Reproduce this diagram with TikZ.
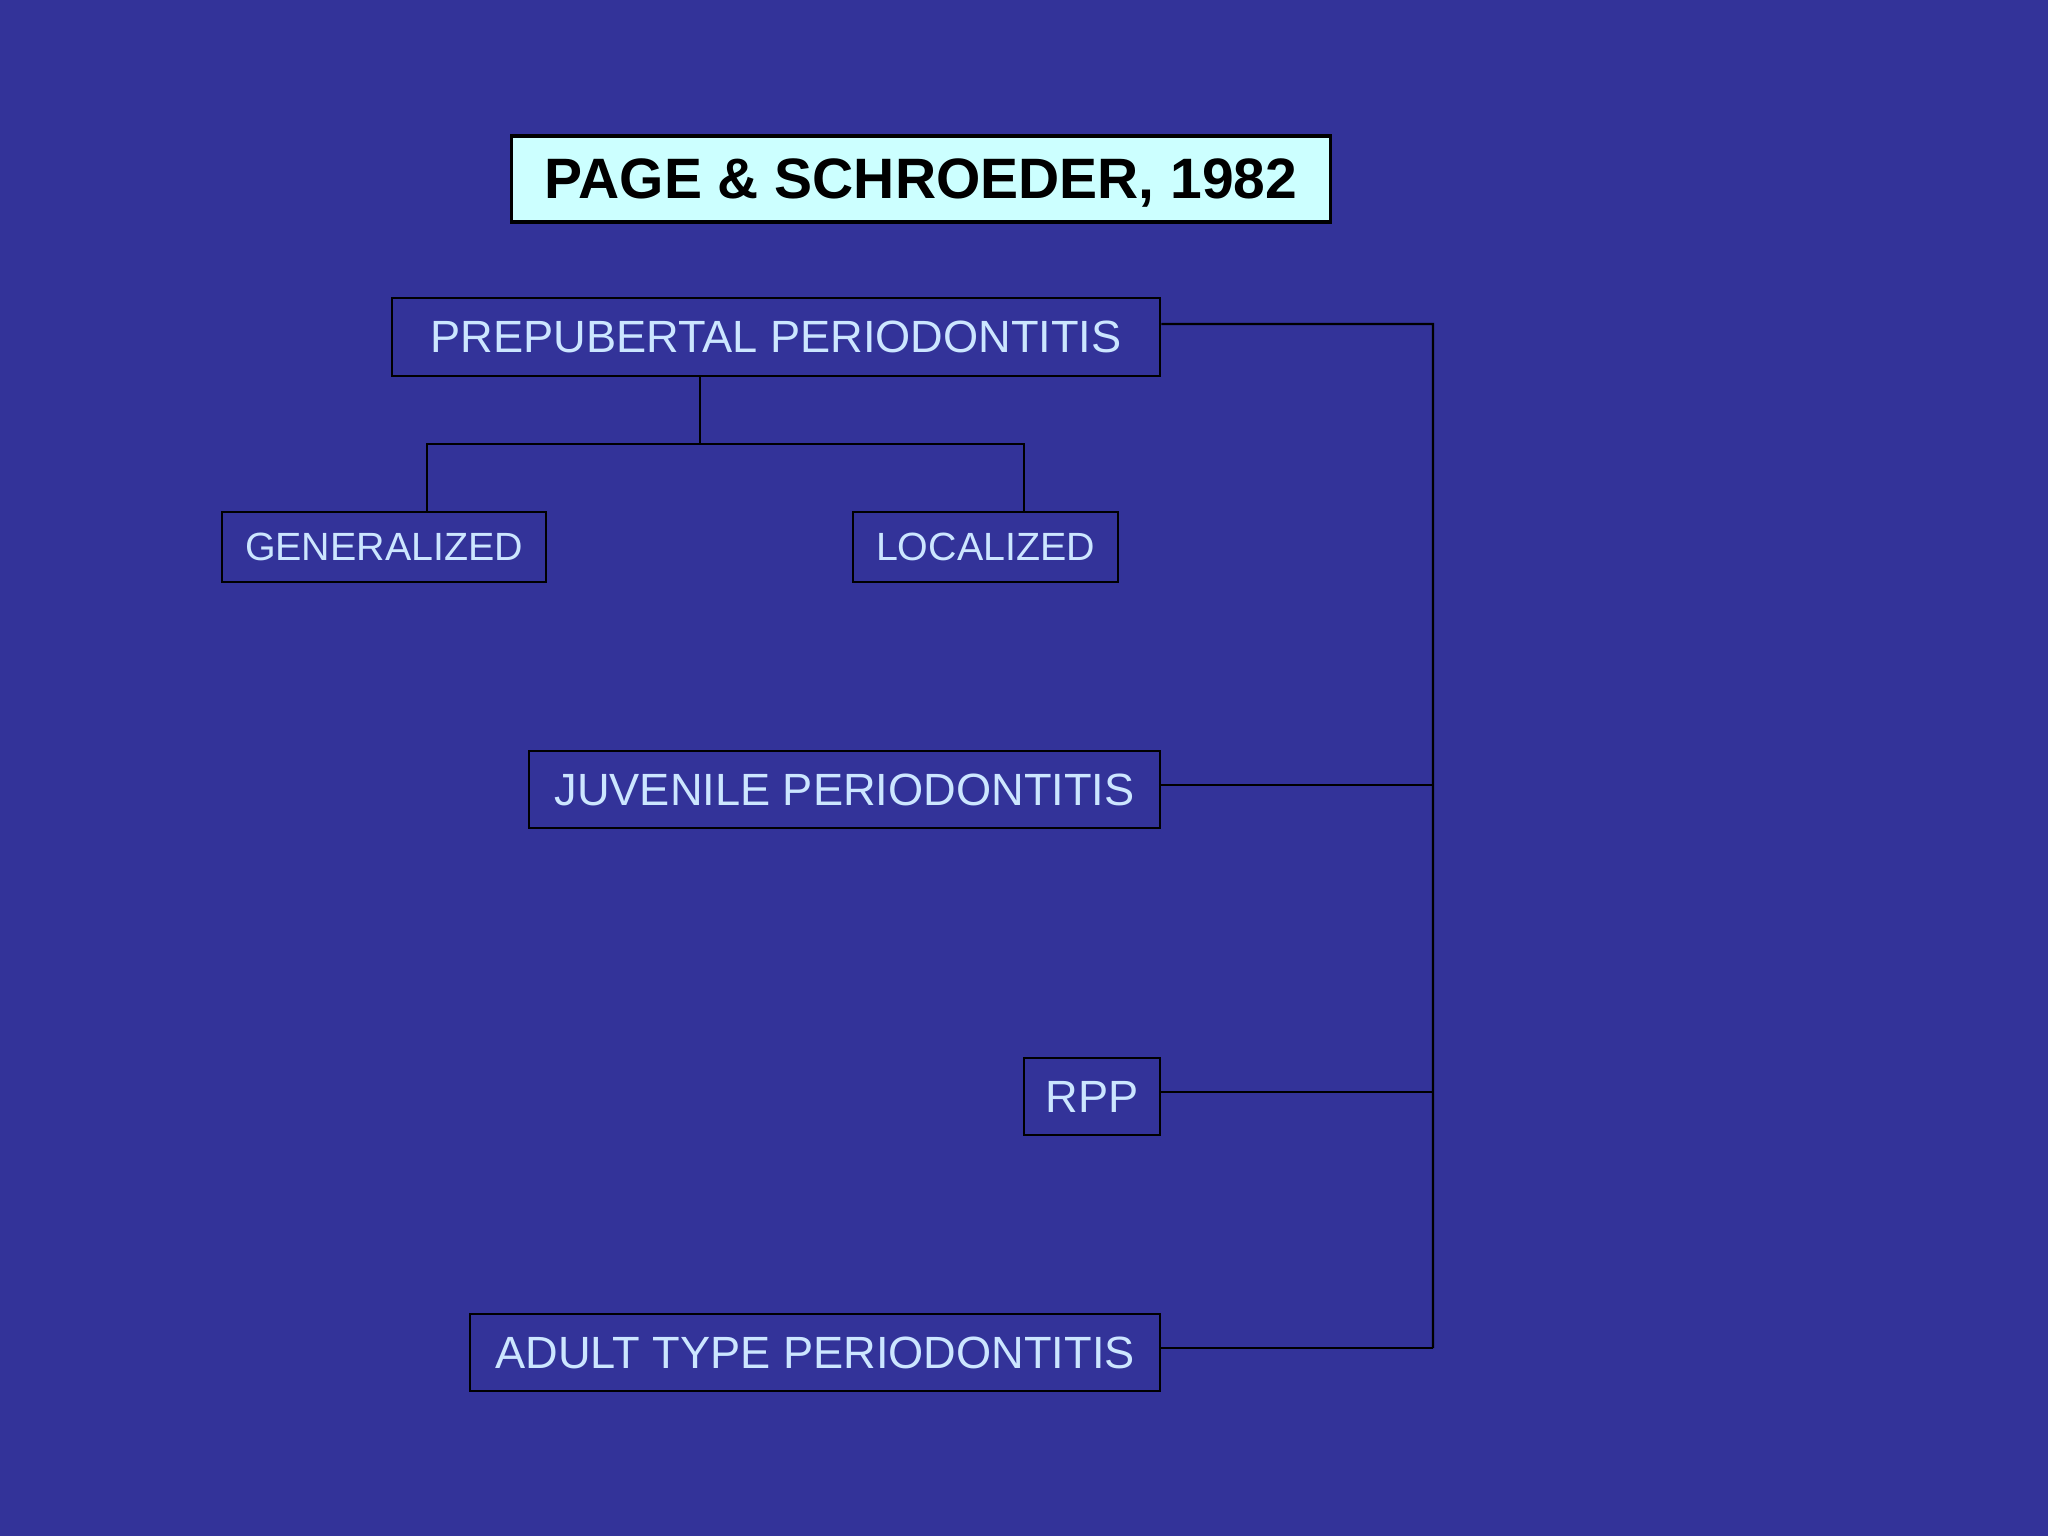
\documentclass[tikz,border=0pt]{standalone}
\usepackage{fontspec}
\setmainfont{Liberation Sans}
\usepackage{tikz}
\usetikzlibrary{positioning,calc}
\definecolor{slideBlue}{RGB}{51,51,153}
\definecolor{labelBlue}{RGB}{204,230,255}
\definecolor{titleCyan}{RGB}{204,255,255}
\tikzset{
	classBox/.style={draw=black, line width=0.6pt, text=labelBlue, inner sep=0pt,
		minimum height=0.77cm, font=\fontsize{12.85}{15}\selectfont},
	smallBox/.style={classBox, minimum height=0.70cm, font=\fontsize{11.2}{13}\selectfont},
	headBox/.style={draw=black, line width=0.9pt, fill=titleCyan, text=black, inner sep=0pt,
		text depth=0pt, minimum height=0.86cm, font=\fontsize{16.2}{19}\selectfont\bfseries},
	link/.style={draw=black, line width=0.6pt}
}

\begin{document}
\begin{tikzpicture}[x=0.01cm, y=-0.01cm]
		\fill[slideBlue] (0,0) rectangle (2048,1536);
		\node[headBox, minimum width=8.18cm] (title) at (921,179) {PAGE \& SCHROEDER, 1982};
		\node[classBox, minimum width=7.68cm, minimum height=0.78cm] (prep) at (776,337) {PREPUBERTAL PERIODONTITIS};
		\node[smallBox, minimum width=3.24cm] (gen) at (384,547) {GENERALIZED};
		\node[smallBox, minimum width=2.65cm] (loc) at (985.5,547) {LOCALIZED};
		\node[classBox, minimum width=6.31cm] (juv) at (844.5,789.5) {JUVENILE PERIODONTITIS};
		\node[classBox, minimum width=1.36cm] (rpp) at (1092,1096.5) {RPP};
		\node[classBox, minimum width=6.90cm] (adult) at (815,1352.5) {ADULT TYPE PERIODONTITIS};
		\coordinate (fork) at (700,444);
		\draw[link] (fork |- prep.south) -- (fork);
		\draw[link] ([xshift=.43cm]gen.north) |- (fork) -| ([xshift=.385cm]loc.north);
		\coordinate (busTop) at (1433,324);
		\coordinate (busEnd) at (1433,1348);
		\draw[link] ([yshift=.13cm]prep.east) -- (busTop) -- (busEnd);
		\foreach \v in {juv,rpp,adult} {
			\draw[link] ([yshift=.045cm]\v.east) -- ([yshift=.045cm]\v.east -| busTop);
		}
	\end{tikzpicture}
\end{document}
